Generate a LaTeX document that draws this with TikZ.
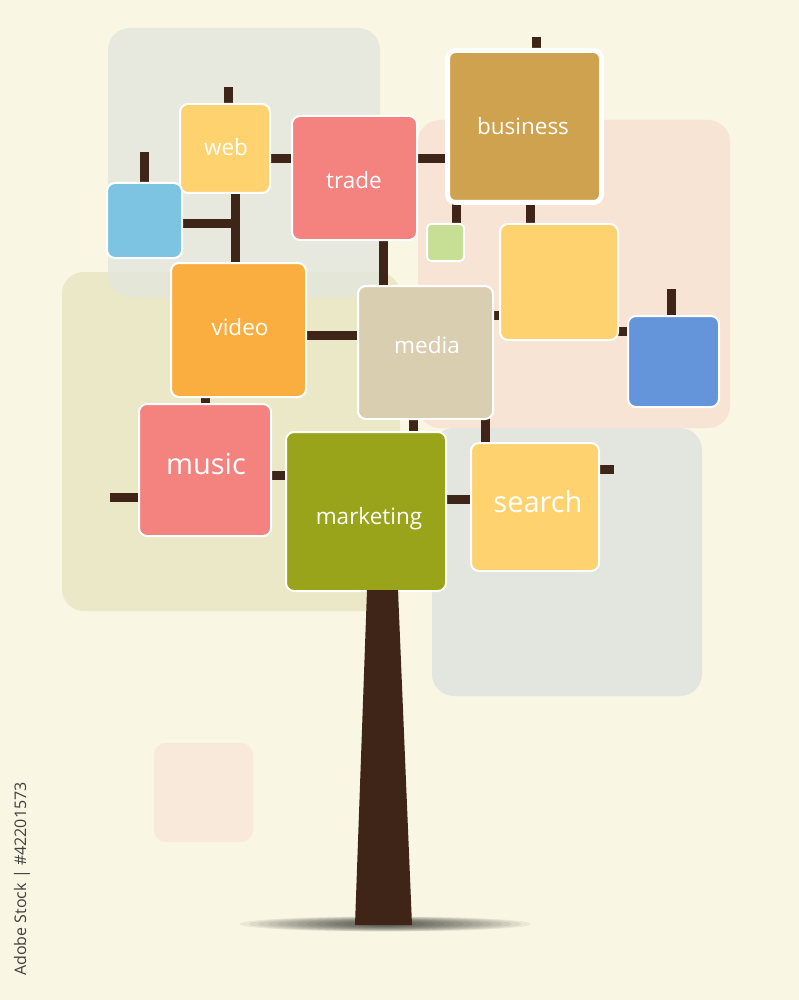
\documentclass[tikz,border=0pt]{standalone}
\usepackage{fontspec}
\setmainfont{Open Sans}
\usetikzlibrary{calc}
\definecolor{bgcream}{HTML}{F9F6E3}
\definecolor{pgray}{HTML}{E3E6DD}
\definecolor{ppeach}{HTML}{F8E4D4}
\definecolor{ppeachlight}{HTML}{F9E9DA}
\definecolor{polive}{HTML}{EAE8C6}
\definecolor{pgray2}{HTML}{E2E6DF}
\definecolor{treebrown}{HTML}{3F2418}
\definecolor{cyellow}{HTML}{FED36F}
\definecolor{csalmon}{HTML}{F4837F}
\definecolor{cbusiness}{HTML}{CFA24F}
\definecolor{clightblue}{HTML}{7DC3E2}
\definecolor{cgreen}{HTML}{C7DE95}
\definecolor{cblue}{HTML}{6495DA}
\definecolor{corange}{HTML}{FBAE40}
\definecolor{cmedia}{HTML}{D9CFB0}
\definecolor{colive}{HTML}{9AA41A}
\pgfdeclarelayer{background}
\pgfdeclarelayer{connlayer}
\pgfsetlayers{background,connlayer,main}
\begin{document}
\begin{tikzpicture}[x=1pt,y=-1pt,
  box/.style={draw=white, line width=2pt, rounded corners=8pt, inner sep=0pt},
  lbl/.style={text=white, inner sep=0pt, font=\fontsize{22.5}{22.5}\selectfont},
  biglbl/.style={lbl, font=\fontsize{29}{29}\selectfont},
  conn/.style={draw=treebrown, line width=9pt},
  panel/.style={rounded corners=22pt}]
\useasboundingbox (0,0) rectangle (799,1000);

% panels
\begin{pgfonlayer}{background}
\fill[bgcream] (0,0) rectangle (799,1000);
\fill[polive, panel] (62,272) rectangle (400,611);
\fill[pgray, panel, fill opacity=0.8] (108,28) rectangle (380,297);
\fill[ppeach, panel] (418,120) rectangle (730,428);
\fill[pgray2, panel] (432,428) rectangle (702,696);
\fill[ppeachlight, panel, rounded corners=12pt] (154,743) rectangle (253,842);
\end{pgfonlayer}

% boxes
\node[box, fill=cyellow, minimum width=90pt, minimum height=89pt] (web) at (225,148.5) {};
\node[box, fill=csalmon, minimum width=125pt, minimum height=124pt] (trade) at (354.5,178) {};
\node[box, fill=cbusiness, line width=5pt, minimum width=154pt, minimum height=152pt] (business) at (524.5,126.5) {};
\node[box, fill=clightblue, minimum width=75pt, minimum height=75pt] (blueL) at (144.5,220.5) {};
\node[box, fill=cgreen, rounded corners=4pt, minimum width=37pt, minimum height=37pt] (green) at (445.5,242.5) {};
\node[box, fill=cyellow, minimum width=118pt, minimum height=116pt] (yellowR) at (559,282) {};
\node[box, fill=cblue, minimum width=91pt, minimum height=91pt] (blueR) at (673.5,361.5) {};
\node[box, fill=corange, minimum width=135pt, minimum height=134pt] (video) at (238.5,330) {};
\node[box, fill=cmedia, minimum width=135pt, minimum height=133pt] (media) at (425.5,352.5) {};
\node[box, fill=csalmon, minimum width=132pt, minimum height=132pt] (music) at (205,470) {};
\node[box, fill=colive, minimum width=160pt, minimum height=159pt] (marketing) at (366,511.5) {};
\node[box, fill=cyellow, minimum width=128pt, minimum height=128pt] (search) at (535,507) {};

% labels
\node[lbl] (webtext) at (226,147) {web};
\node[lbl] (tradetext) at (354,180) {trade};
\node[lbl] (businesstext) at (523,126) {business};
\node[lbl] (videotext) at (240,327) {video};
\node[lbl] (mediatext) at (427,345) {media};
\node[biglbl] (musictext) at (206,464) {music};
\node[lbl] (marketingtext) at (369,519) {marketing};
\node[biglbl] (searchtext) at (538,502) {search};

% junction levels and free ends
\coordinate (webtop) at (228,87);
\coordinate (blueLtop) at (144,152);
\coordinate (bustop) at (536,37);
\coordinate (blueRtop) at (671,289);
\coordinate (musicleft) at (110,497);
\coordinate (searchright) at (614,469);
\coordinate (hA) at (0,159);
\coordinate (hB) at (0,224);
\coordinate (hC) at (0,315);
\coordinate (hD) at (0,331);
\coordinate (hE) at (0,335);
\coordinate (hF) at (0,475);
\coordinate (hG) at (0,499);
\coordinate (vA) at (235,0);
\coordinate (vB) at (383,0);
\coordinate (vC) at (456,0);
\coordinate (vD) at (530,0);
\coordinate (vE) at (205,0);
\coordinate (vF) at (413,0);
\coordinate (vG) at (485,0);

\begin{pgfonlayer}{connlayer}
\draw[conn] (webtop) -- (webtop |- web.center);
\draw[conn] (blueLtop) -- (blueLtop |- blueL.center);
\draw[conn] (bustop) -- (bustop |- business.center);
\draw[conn] (blueRtop) -- (blueRtop |- blueR.center);
\draw[conn] (musicleft) -- (musicleft -| music.center);
\draw[conn] (searchright) -- (searchright -| search.center);
\draw[conn] (web.center |- hA) -- (trade.center |- hA);
\draw[conn] (trade.center |- hA) -- (business.center |- hA);
\draw[conn] (vA |- web.center) -- (vA |- video.center);
\draw[conn] (blueL.center |- hB) -- (vA |- hB);
\draw[conn] (vB |- trade.center) -- (vB |- media.center);
\draw[conn] (vC |- business.center) -- (vC |- green.center);
\draw[conn] (vD |- business.center) -- (vD |- yellowR.center);
\draw[conn] (media.center |- hC) -- (yellowR.center |- hC);
\draw[conn] (yellowR.center |- hD) -- (blueR.center |- hD);
\draw[conn] (video.center |- hE) -- (media.center |- hE);
\draw[conn] (vE |- video.center) -- (vE |- music.center);
\draw[conn] (music.center |- hF) -- (marketing.center |- hF);
\draw[conn] (vF |- media.center) -- (vF |- marketing.center);
\draw[conn] (vG |- media.center) -- (vG |- search.center);
\draw[conn] (marketing.center |- hG) -- (search.center |- hG);
\end{pgfonlayer}

% shadow and trunk
\foreach \i in {1,...,14}{
  \pgfmathsetmacro{\rx}{155-9.5*\i}
  \pgfmathsetmacro{\ry}{8-0.4*\i}
  \fill[black, fill opacity=0.06] (385,924) ellipse ({\rx pt} and {\ry pt});
}
\fill[treebrown] (367,590) -- (398,590) -- (412,925) -- (355,925) -- cycle;

% side caption
\node[rotate=90, text=black!75, font=\fontsize{16}{16}\selectfont] (caption) at (22,879) {Adobe Stock | \#42201573};
\end{tikzpicture}
\end{document}
